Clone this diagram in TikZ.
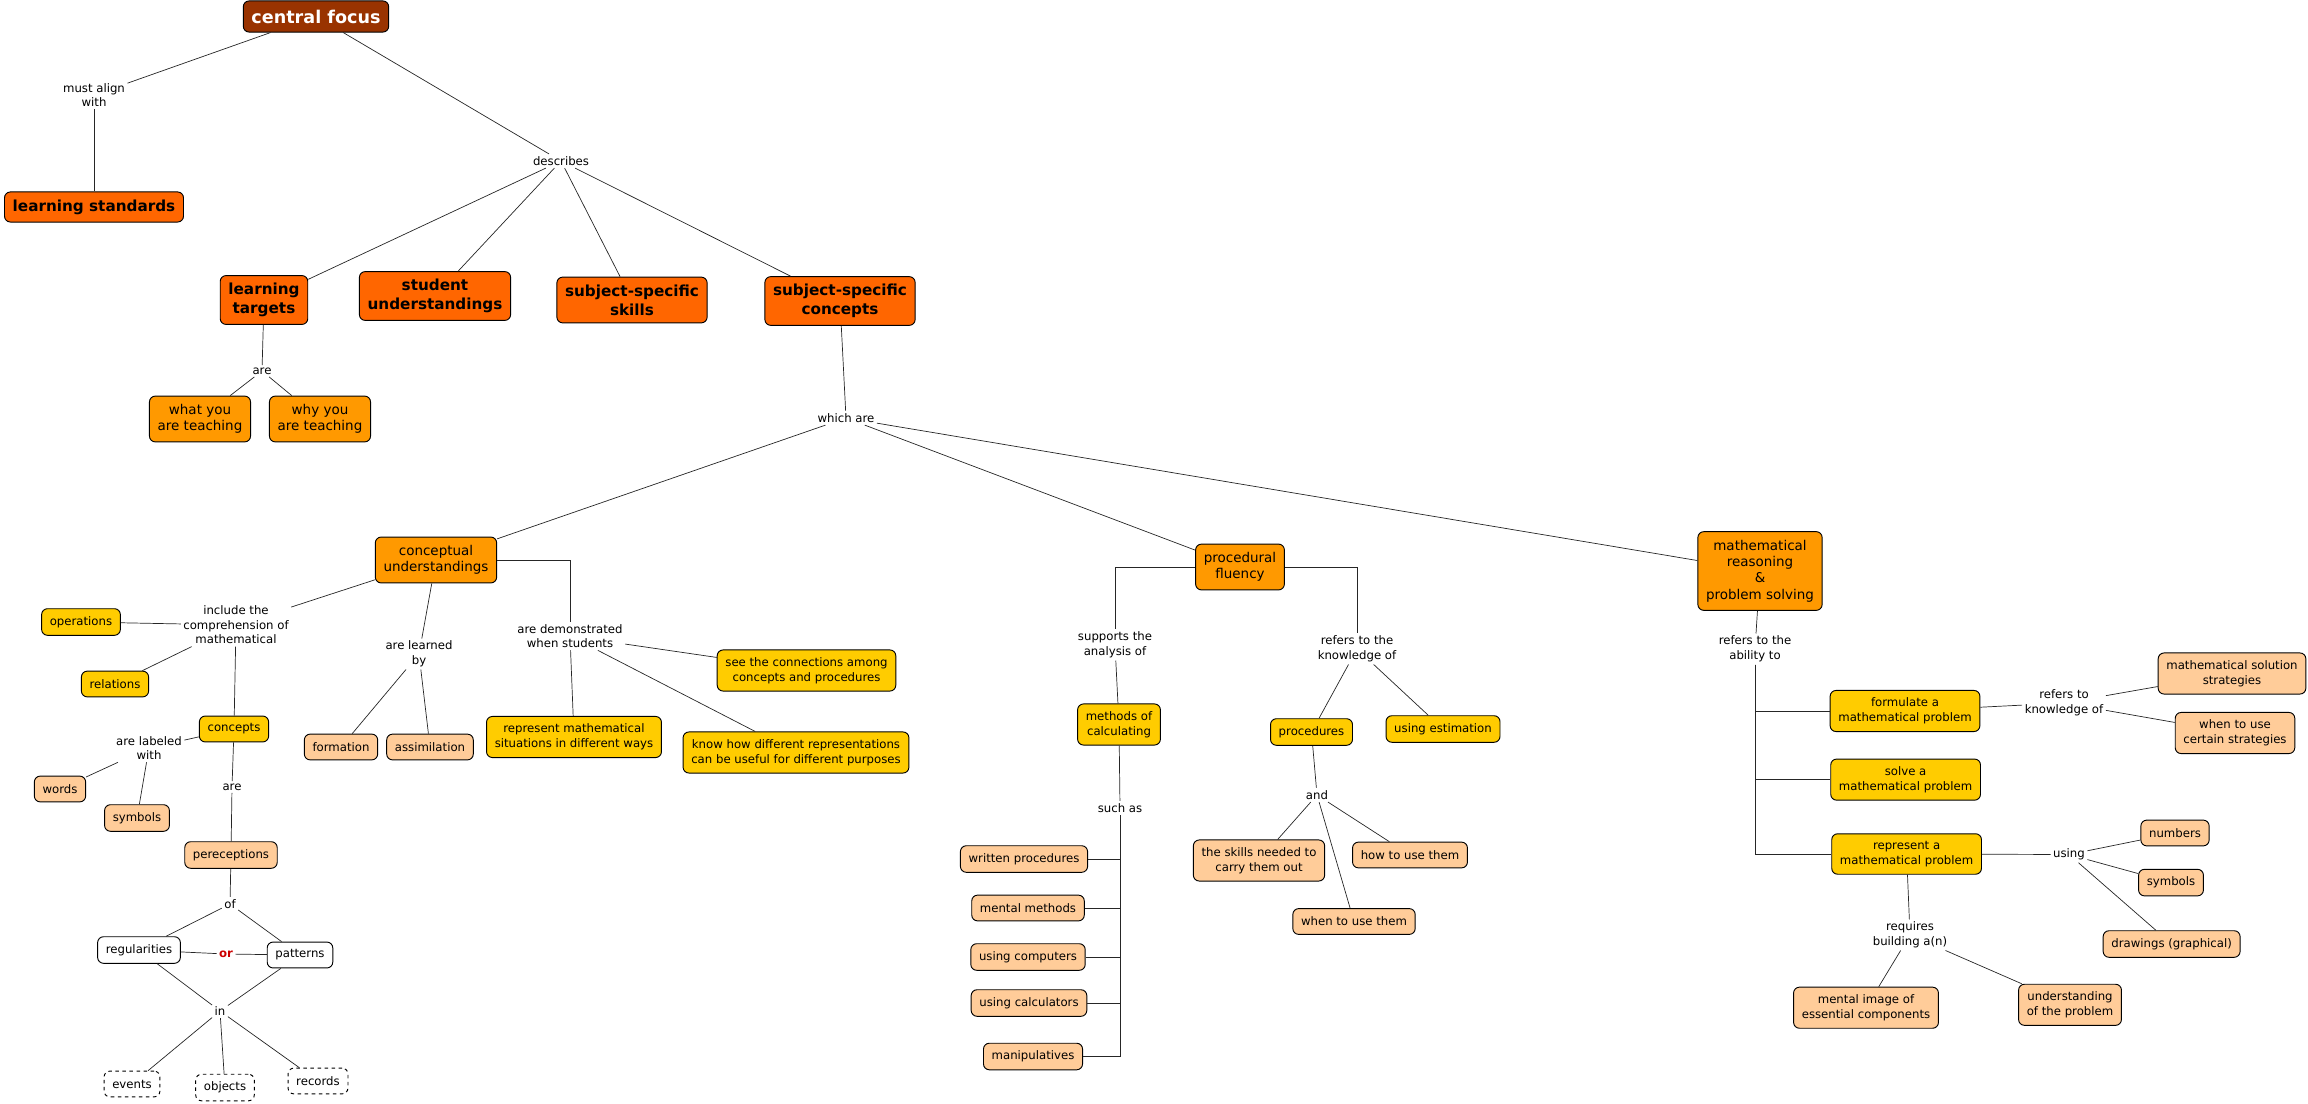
\documentclass[tikz,border=0pt]{standalone}
\usepackage{fontspec}
\setmainfont{DejaVu Sans}
\usepackage{tikz}

\definecolor{cfbrown}{HTML}{993300}
\definecolor{headorange}{HTML}{FF6600}
\definecolor{midorange}{HTML}{FF9900}
\definecolor{yelfill}{HTML}{FFCC00}
\definecolor{peachfill}{HTML}{FFCC99}
\newcommand{\cmaplink}{\fontsize{10}{12.4}\selectfont}
\newcommand{\cmapmid}{\fontsize{11.5}{14}\selectfont}
\newcommand{\cmaphead}{\bfseries\fontsize{13}{16}\selectfont}
\newcommand{\cmaptop}{\bfseries\fontsize{15}{18}\selectfont}

\begin{document}
\begin{tikzpicture}[x=0.03cm,y=-0.03cm,
  cmapbox/.style={draw=black,line width=0.8pt,rounded corners=5pt,align=center},
  topbox/.style={cmapbox,fill=cfbrown,text=white,font=\cmaptop,inner xsep=7pt,inner ysep=7.5pt},
  headbox/.style={cmapbox,fill=headorange,font=\cmaphead,inner xsep=7pt,inner ysep=6.5pt},
  midbox/.style={cmapbox,fill=midorange,font=\cmapmid,inner xsep=7pt,inner ysep=7pt},
  yelbox/.style={cmapbox,fill=yelfill,font=\cmaplink,inner xsep=7pt,inner ysep=6.5pt,minimum height=22pt},
  peachbox/.style={yelbox,fill=peachfill},
  whitebox/.style={yelbox,fill=white},
  dashbox/.style={whitebox,dashed},
  linkword/.style={font=\cmaplink,align=center,inner sep=2pt},
  conn/.style={draw=black!85,line width=0.6pt}]
\useasboundingbox (0,0) rectangle (2308,1104);

\node[topbox] (cf) at (316,16.5) {central focus};
\node[linkword] (align) at (94,95) {must align\\with};
\node[headbox] (ls) at (94,207) {learning standards};
\node[linkword] (desc) at (561,161) {describes};
\node[headbox] (lt) at (264,300) {learning\\targets};
\node[headbox] (su) at (435,296) {student\\understandings};
\node[headbox] (sss) at (632,300) {subject-specific\\skills};
\node[headbox] (ssc) at (840,301) {subject-specific\\concepts};
\node[linkword] (ltare) at (262,371) {are};
\node[midbox] (what) at (200,419) {what you\\are teaching};
\node[midbox] (why) at (320,419) {why you\\are teaching};
\node[linkword] (which) at (846,418) {which are};

\node[midbox] (cu) at (436,560) {conceptual\\understandings};
\node[linkword] (incl) at (236,625) {include the\\comprehension of\\mathematical};
\node[yelbox] (ops) at (81,622) {operations};
\node[yelbox] (rel) at (115,684) {relations};
\node[yelbox] (conc) at (234,729) {concepts};
\node[linkword] (labeled) at (149,748) {are labeled\\with};
\node[peachbox] (words) at (60,789) {words};
\node[peachbox] (symb) at (137,818) {symbols};
\node[linkword] (areperc) at (232,787) {are};
\node[peachbox] (perc) at (231,855) {pereceptions};
\node[linkword] (oflink) at (230,904) {of};
\node[whitebox] (reg) at (139,950) {regularities};
\node[whitebox] (pat) at (300,955) {patterns};
\node[linkword,text=red!80!black,font=\cmaplink\bfseries] (orlink) at (226,954) {or};
\node[linkword] (inlink) at (220,1011) {in};
\node[dashbox] (events) at (132,1084) {events};
\node[dashbox] (objects) at (225,1087.5) {objects};
\node[dashbox] (records) at (318,1081) {records};
\node[linkword] (learned) at (419,654) {are learned\\by};
\node[peachbox] (formation) at (341,747) {formation};
\node[peachbox] (assim) at (430,747) {assimilation};
\node[linkword] (demo) at (570,636) {are demonstrated\\when students};
\node[yelbox] (reprsit) at (574,737) {represent mathematical\\situations in different ways};
\node[yelbox] (seeconn) at (806.5,670.5) {see the connections among\\concepts and procedures};
\node[yelbox] (knowhow) at (796,752.5) {know how different representations\\can be useful for different purposes};

\node[midbox] (pf) at (1240,567) {procedural\\fluency};
\node[linkword] (supp) at (1115,645) {supports the\\analysis of};
\node[yelbox] (meth) at (1119,724.5) {methods of\\calculating};
\node[linkword] (such) at (1120,808) {such as};
\node[peachbox] (written) at (1024,859) {written procedures};
\node[peachbox] (mental) at (1028,908) {mental methods};
\node[peachbox] (computers) at (1028,957) {using computers};
\node[peachbox] (calcs) at (1029,1003) {using calculators};
\node[peachbox] (manip) at (1033,1056.5) {manipulatives};
\node[linkword] (refknow) at (1357,649) {refers to the\\knowledge of};
\node[yelbox] (procs) at (1311.5,732) {procedures};
\node[yelbox] (estim) at (1443,729) {using estimation};
\node[linkword] (andlink) at (1317,795) {and};
\node[peachbox] (skills) at (1259,860.5) {the skills needed to\\carry them out};
\node[peachbox] (howuse) at (1410,855) {how to use them};
\node[peachbox] (whenuse) at (1354,921.5) {when to use them};

\node[midbox] (mr) at (1760,571) {mathematical\\reasoning\\\&\\problem solving};
\node[linkword] (ability) at (1755,649) {refers to the\\ability to};
\node[yelbox] (formulate) at (1905,711) {formulate a\\mathematical problem};
\node[yelbox] (solve) at (1905.6,779.6) {solve a\\mathematical problem};
\node[yelbox] (represent) at (1906.6,854) {represent a\\mathematical problem};
\node[linkword] (refknow2) at (2064,703) {refers to\\knowledge of};
\node[peachbox] (strat) at (2232,673.5) {mathematical solution\\strategies};
\node[peachbox] (whencert) at (2235,733) {when to use\\certain strategies};
\node[linkword] (usinglink) at (2069,854.5) {using};
\node[peachbox] (numbers) at (2175,833) {numbers};
\node[peachbox] (symbols2) at (2171,882.6) {symbols};
\node[peachbox] (drawings) at (2171.6,944) {drawings (graphical)};
\node[linkword] (requires) at (1910,935) {requires\\building a(n)};
\node[peachbox] (mentalimg) at (1866,1007.7) {mental image of\\essential components};
\node[peachbox] (underst) at (2070,1004.8) {understanding\\of the problem};

\draw[conn] (align) edge (cf) edge (ls);
\draw[conn] (desc) edge (cf) edge (lt) edge (su) edge (sss) edge (ssc);
\draw[conn] (ltare) edge (lt) edge (what) edge (why);
\draw[conn] (which) edge (ssc) edge (cu) edge (pf) edge (mr);

\draw[conn] (incl) edge (cu) edge (ops) edge (rel) edge (conc);
\draw[conn] (labeled) edge (conc) edge (words) edge (symb);
\draw[conn] (areperc) edge (conc) edge (perc);
\draw[conn] (oflink) edge (perc) edge (reg) edge (pat);
\draw[conn] (orlink) edge (reg) edge (pat);
\draw[conn] (inlink) edge (reg) edge (pat) edge (events) edge (objects) edge (records);
\draw[conn] (learned) edge (cu) edge (formation) edge (assim);
\draw[conn] (cu) -| (demo);
\draw[conn] (demo) edge (reprsit) edge (seeconn) edge (knowhow);

\draw[conn] (pf) -| (supp);
\draw[conn] (supp) edge (meth);
\draw[conn] (such) edge (meth);
\draw[conn] (such) |- (written);
\draw[conn] (such) |- (mental);
\draw[conn] (such) |- (computers);
\draw[conn] (such) |- (calcs);
\draw[conn] (such) |- (manip);
\draw[conn] (pf) -| (refknow);
\draw[conn] (refknow) edge (procs) edge (estim);
\draw[conn] (andlink) edge (procs) edge (skills) edge (howuse) edge (whenuse);

\draw[conn] (mr) -- (ability);
\draw[conn] (ability) |- (formulate);
\draw[conn] (ability) |- (solve);
\draw[conn] (ability) |- (represent);
\draw[conn] (refknow2) edge (formulate) edge (strat) edge (whencert);
\draw[conn] (usinglink) edge (represent) edge (numbers) edge (symbols2) edge (drawings);
\draw[conn] (requires) edge (represent) edge (mentalimg) edge (underst);
\end{tikzpicture}
\end{document}
